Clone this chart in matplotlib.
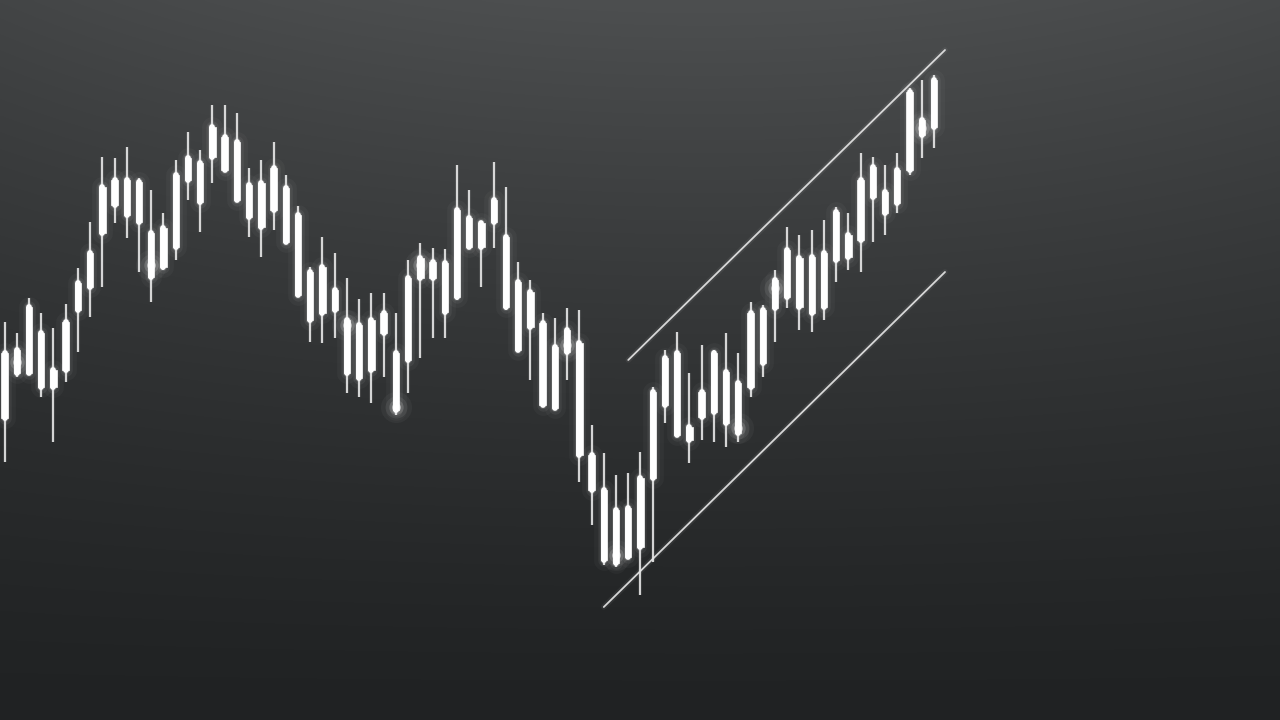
import numpy as np
import matplotlib
matplotlib.use("Agg")
import matplotlib.pyplot as plt

# ---- candle data (price units), one entry per period ----
high = [398, 387, 422, 407, 392, 416, 452, 498, 563, 562, 573, 542, 530, 507, 560, 588, 570, 615, 615, 607,
        552, 560, 578, 545, 514, 453, 483, 467, 442, 421, 427, 427, 407, 460, 477, 472, 471, 555, 530, 498,
        558, 533, 458, 440, 407, 402, 412, 410, 295, 267, 245, 247, 268, 333, 370, 388, 347, 375, 370, 387,
        367, 418, 415, 450, 493, 485, 490, 500, 513, 507, 567, 563, 555, 567, 632, 640, 645]
body_top = [367, 370, 413, 387, 350, 398, 437, 467, 533, 540, 540, 538, 487, 492, 545, 562, 557, 593, 583, 578,
            535, 537, 552, 532, 505, 448, 453, 430, 400, 395, 400, 407, 367, 442, 462, 458, 457, 510, 502, 497,
            520, 483, 438, 428, 397, 373, 390, 377, 265, 230, 210, 212, 242, 328, 362, 367, 293, 328, 367, 348,
            337, 407, 410, 440, 470, 462, 463, 467, 508, 485, 540, 553, 528, 550, 628, 600, 640]
body_bottom = [302, 347, 347, 333, 333, 350, 410, 433, 487, 515, 505, 498, 443, 453, 473, 540, 518, 563, 550, 520,
               503, 493, 510, 478, 425, 400, 407, 410, 347, 342, 350, 387, 310, 360, 442, 442, 408, 423, 473, 473,
               498, 413, 370, 393, 315, 312, 368, 265, 230, 160, 157, 163, 173, 242, 315, 285, 280, 303, 308, 297,
               287, 333, 357, 412, 423, 413, 407, 413, 460, 463, 480, 523, 507, 517, 550, 585, 593]
low = [258, 343, 345, 323, 278, 338, 368, 403, 433, 497, 482, 448, 418, 450, 460, 520, 488, 537, 548, 518,
       483, 463, 490, 477, 423, 378, 377, 382, 327, 323, 317, 343, 305, 327, 362, 382, 382, 420, 472, 433,
       472, 410, 368, 340, 313, 310, 340, 238, 195, 155, 153, 162, 125, 158, 297, 283, 257, 280, 278, 273,
       278, 323, 343, 378, 412, 390, 388, 400, 438, 450, 448, 478, 485, 507, 545, 562, 572]

# rising channel drawn over the last leg: (period, price) end points
upper_channel_t = [51.0, 76.9]
upper_channel_p = [360, 670]
lower_channel_t = [49.0, 76.9]
lower_channel_p = [113, 448]

# periods whose candles carry a bright glare, and the price level of the glare
glare_t = [12, 32, 50, 75, 60, 63, 46, 34, 28, 1]
glare_p = [455, 313, 165, 592, 292, 432, 375, 455, 395, 358]

t = np.arange(len(high))

fig = plt.figure(figsize=(12.8, 7.2), dpi=100)
ax = fig.add_axes([0, 0, 1, 1])
x0, x1 = -0.368, 104.29
y0, y1 = 0, 720
ax.set_xlim(x0, x1)
ax.set_ylim(y0, y1)
ax.axis("off")

# background gradient (lighter at top centre, darker towards bottom)
H, W = 360, 640
yy, xx = np.mgrid[0:H, 0:W]
fy = yy / (H - 1)          # 0 top -> 1 bottom
fx = (xx / (W - 1) - 0.55) / 0.55
v = 32 + 45 * (1 - fy) ** 1.3 * (1 - 0.22 * fx ** 2)
img = np.stack([v, v + 2, v + 3], axis=-1) / 255.0
img = np.clip(img, 0, 1)
ax.imshow(img, extent=[x0, x1, y0, y1], origin="upper", aspect="auto", zorder=0, interpolation="bicubic")

# glow layers
for lw, a in [(15, 0.03), (9, 0.06), (6, 0.12)]:
    ax.vlines(t, body_bottom, body_top, colors="white", linewidth=lw, alpha=a,
              capstyle="round", zorder=2)
ax.vlines(t, low, high, colors="white", linewidth=3.0, alpha=0.10, zorder=2)

# wicks
ax.vlines(t, low, high, colors="#f2f2f2", linewidth=1.2, zorder=3)
# bodies
ax.bar(t, np.array(body_top) - np.array(body_bottom), bottom=body_bottom, width=0.52,
       color="white", edgecolor="#fafafa", linewidth=0.5, zorder=4)
ax.vlines(t, body_bottom, body_top, colors="white", linewidth=4.2, capstyle="round", zorder=4)

# glare spots
for s, a in [(500, 0.04), (250, 0.07), (110, 0.14), (40, 0.5)]:
    ax.scatter(glare_t, glare_p, s=s, color="white", alpha=a, linewidths=0, zorder=5)

# channel lines
for tt, pp in [(upper_channel_t, upper_channel_p), (lower_channel_t, lower_channel_p)]:
    ax.plot(tt, pp, color="white", linewidth=4, alpha=0.06, solid_capstyle="round", zorder=2)
    ax.plot(tt, pp, color="#e8e8e8", linewidth=1.3, alpha=0.9, solid_capstyle="round", zorder=3)

fig.savefig("out.png", dpi=100)
